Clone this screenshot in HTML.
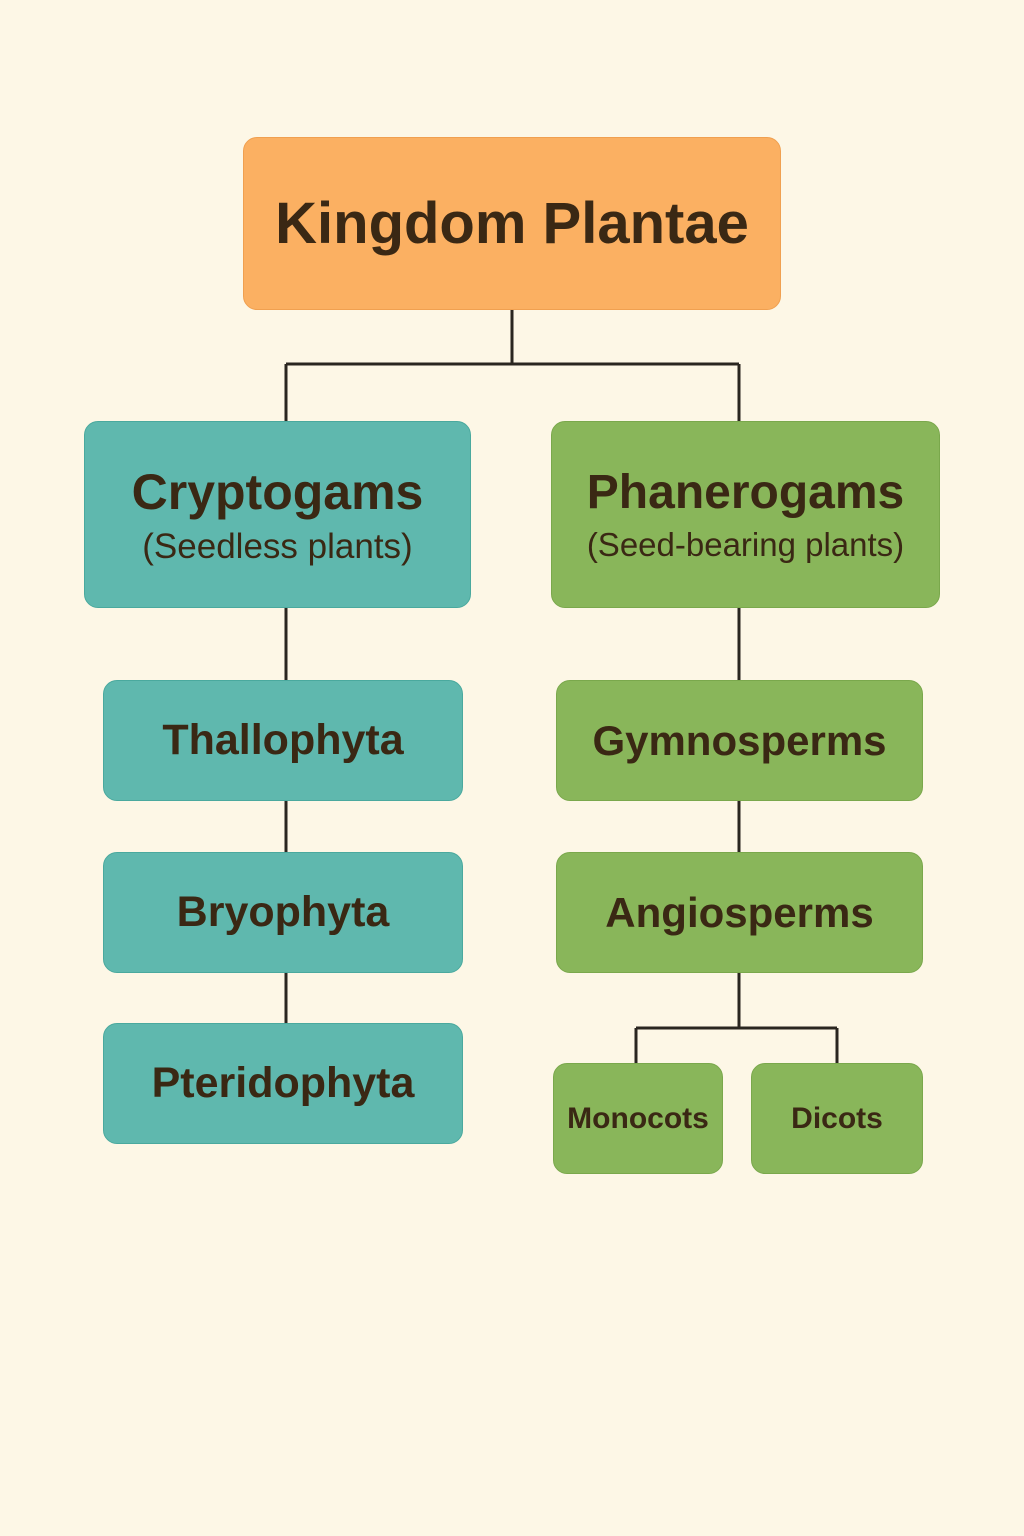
<!DOCTYPE html>
<html><head><meta charset="utf-8"><style>
body{margin:0;width:1024px;height:1536px;background:#fdf7e6;position:relative;font-family:"Liberation Sans",sans-serif;overflow:hidden}
.b{position:absolute;border-radius:14px;display:flex;flex-direction:column;align-items:center;justify-content:center;color:#3a2814;font-weight:bold;box-sizing:border-box}
.o{background:#fbb062;border:1px solid #f0a050}
.t{background:#5fb8ae;border:1px solid #4aa99e}
.g{background:#89b65a;border:1px solid #7aa84c}
.s{font-weight:normal;font-size:35px;margin-top:6px}
</style></head><body>
<svg width="1024" height="1536" style="position:absolute;left:0;top:0">
<g stroke="#2a2620" stroke-width="3" fill="none">
<path d="M512 310V364M286 364H739M286 364V421M739 364V421"/>
<path d="M286 608V680M286 801V852M286 973V1023"/>
<path d="M739 608V680M739 801V852M739 973V1028M636 1028H837M636 1028V1063M837 1028V1063"/>
</g></svg>
<div class="b o" style="left:243px;top:137px;width:538px;height:173px;font-size:58px">Kingdom Plantae</div>
<div class="b t" style="left:84px;top:421px;width:387px;height:187px;font-size:50px">Cryptogams<div class="s">(Seedless plants)</div></div>
<div class="b g" style="left:551px;top:421px;width:389px;height:187px;font-size:48px">Phanerogams<div class="s" style="font-size:33px">(Seed-bearing plants)</div></div>
<div class="b t" style="left:103px;top:680px;width:360px;height:121px;font-size:43px">Thallophyta</div>
<div class="b t" style="left:103px;top:852px;width:360px;height:121px;font-size:43px">Bryophyta</div>
<div class="b t" style="left:103px;top:1023px;width:360px;height:121px;font-size:43px">Pteridophyta</div>
<div class="b g" style="left:556px;top:680px;width:367px;height:121px;font-size:42px">Gymnosperms</div>
<div class="b g" style="left:556px;top:852px;width:367px;height:121px;font-size:42px">Angiosperms</div>
<div class="b g" style="left:553px;top:1063px;width:170px;height:111px;font-size:30px">Monocots</div>
<div class="b g" style="left:751px;top:1063px;width:172px;height:111px;font-size:30px">Dicots</div>
</body></html>
